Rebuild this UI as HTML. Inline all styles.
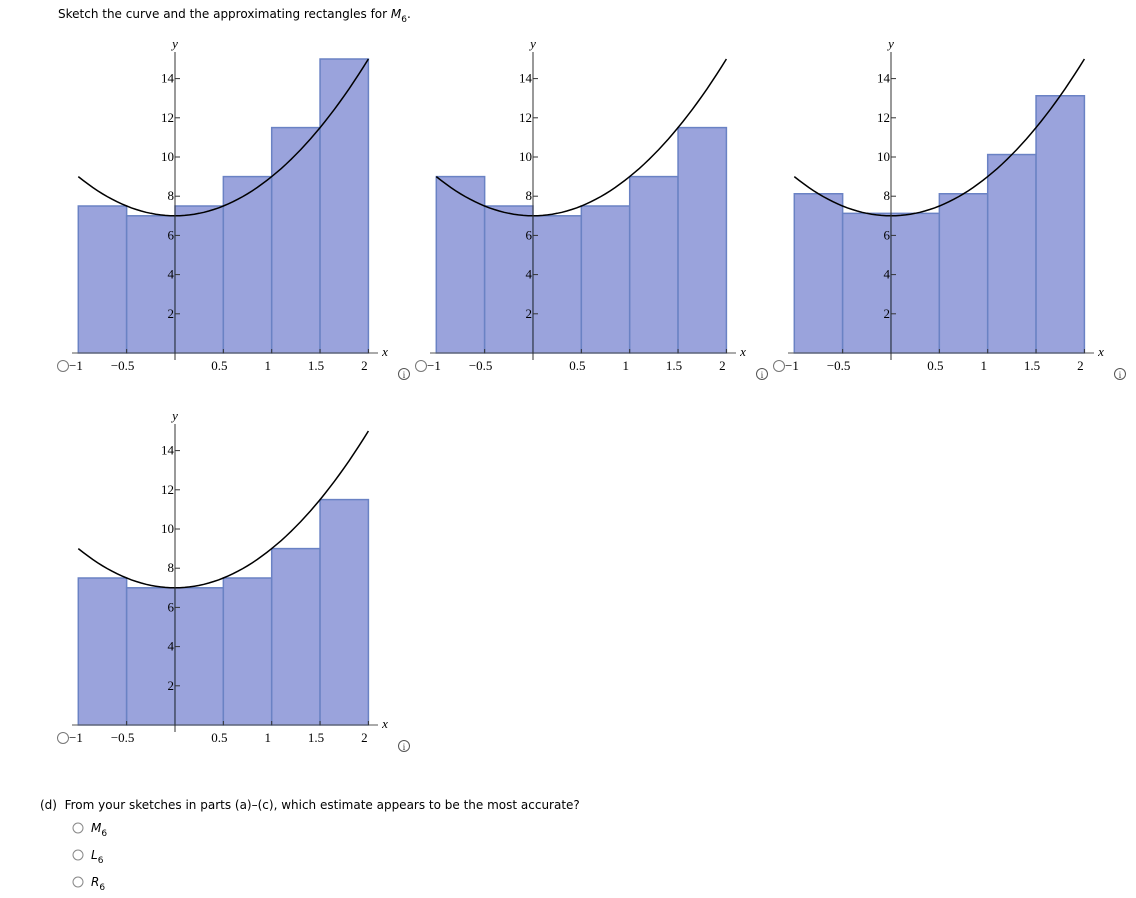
<!DOCTYPE html>
<html><head><meta charset="utf-8"><style>
body{margin:0;background:#fff;font-family:"Liberation Sans",sans-serif;}
svg{position:absolute;left:0;top:0}
.t{font-family:"Liberation Serif",serif;font-size:13px;fill:#000}
.s{font-family:"DejaVu Sans","Liberation Sans",sans-serif;font-size:12px;fill:#000}
</style></head><body>
<svg id="c" width="1136" height="898">
<text class="s" x="58" y="18">Sketch the curve and the approximating rectangles for <tspan font-style="italic">M</tspan><tspan font-size="9" dy="4">6</tspan><tspan dy="-4">.</tspan></text>
<text class="s" x="40" y="809">(d)&#160;&#160;From your sketches in parts (a)–(c), which estimate appears to be the most accurate?</text>
<g><circle cx="78" cy="828" r="5" fill="#fff" stroke="#888"/><text class="s" x="91" y="832"><tspan font-style="italic">M</tspan><tspan font-size="9" dy="4">6</tspan></text></g>
<g><circle cx="78" cy="855" r="5" fill="#fff" stroke="#888"/><text class="s" x="91" y="859"><tspan font-style="italic">L</tspan><tspan font-size="9" dy="4">6</tspan></text></g>
<g><circle cx="78" cy="882" r="5" fill="#fff" stroke="#888"/><text class="s" x="91" y="886"><tspan font-style="italic">R</tspan><tspan font-size="9" dy="4">6</tspan></text></g>
</svg>
<script>
const xEdges=[-1,-0.5,0,0.5,1,1.5,2];
const heightsA=[7.5,7,7.5,9,11.5,15];
const heightsB=[9,7.5,7,7.5,9,11.5];
const heightsC=[8.125,7.125,7.125,8.125,10.125,13.125];
const heightsD=[7.5,7,7,7.5,9,11.5];
const yTicks=[2,4,6,8,10,12,14];
const xTicks=[-0.5,0.5,1,1.5,2];
const xTickLabels=["\u22120.5","0.5","1","1.5","2"];
const panels=[[0,0,heightsA],[358,0,heightsB],[716,0,heightsC],[0,372,heightsD]];
const NS="http://www.w3.org/2000/svg",svg=document.getElementById('c');
function mk(t,a,p){const e=document.createElementNS(NS,t);for(const k in a)e.setAttribute(k,a[k]);p.appendChild(e);return e;}
function f(x){return 2*x*x+7;}
panels.forEach((p,i)=>{
  const ox=p[0],oy=p[1],h=p[2];
  const X=v=>ox+175+v*96.7, Y=v=>oy+353-v*19.6;
  const g=mk('g',{},svg);
  
  
  h.forEach((v,j)=>{
    const r=mk('rect',{x:X(xEdges[j]),y:Y(v),width:X(xEdges[j+1])-X(xEdges[j]),height:Y(0)-Y(v),fill:'#9aa3dc',stroke:'#6a82c4','stroke-width':1.5},g);
    
    
  });
  let d='';for(let k=0;k<=60;k++){const x=-1+k*0.05;d+=(k?'L':'M')+X(x).toFixed(1)+','+Y(f(x)).toFixed(1);}
  const c=mk('path',{d:d,fill:'none',stroke:'#000','stroke-width':1.5},g);
  
  
  const xa=mk('line',{x1:ox+72,x2:ox+378,y1:Y(0),y2:Y(0),stroke:'#555'},g);
  
  
  const ya=mk('line',{x1:X(0),x2:X(0),y1:oy+52,y2:oy+360,stroke:'#333'},g);
  
  
  yTicks.forEach(v=>{
    mk('line',{x1:X(0),x2:X(0)+5,y1:Y(v),y2:Y(v),stroke:'#333'},g);
    const t=mk('text',{x:X(0)-1,y:Y(v)+4,'text-anchor':'end',class:'t'},g);t.textContent=v;
    
    
  });
  xTicks.forEach((v,k)=>{
    mk('line',{x1:X(v),x2:X(v),y1:Y(0),y2:Y(0)-4,stroke:'#333'},g);
    const t=mk('text',{x:X(v)-4,y:oy+370,'text-anchor':'middle',class:'t'},g);t.textContent=xTickLabels[k];
    
    
  });
  const m=mk('text',{x:ox+69,y:oy+370,class:'t'},g);m.textContent='\u22121';
  
  
  const rb=mk('circle',{cx:ox+63,cy:oy+366,r:5.5,fill:'#fff',stroke:'#777'},g);
  
  
  const yl=mk('text',{x:X(0),y:oy+48,'text-anchor':'middle',class:'t','font-style':'italic','font-size':'15'},g);yl.textContent='y';
  
  
  const xl=mk('text',{x:ox+385,y:oy+356,'text-anchor':'middle',class:'t','font-style':'italic','font-size':'15'},g);xl.textContent='x';
  
  
  const ig=mk('g',{},g);
  
  
  mk('circle',{cx:ox+404,cy:oy+374,r:5.5,fill:'#fff',stroke:'#555'},ig);
  const it=mk('text',{x:ox+404,y:oy+378,'text-anchor':'middle','font-size':'9',fill:'#333','font-family':'Liberation Serif'},ig);it.textContent='i';
});
</script>
</body></html>
